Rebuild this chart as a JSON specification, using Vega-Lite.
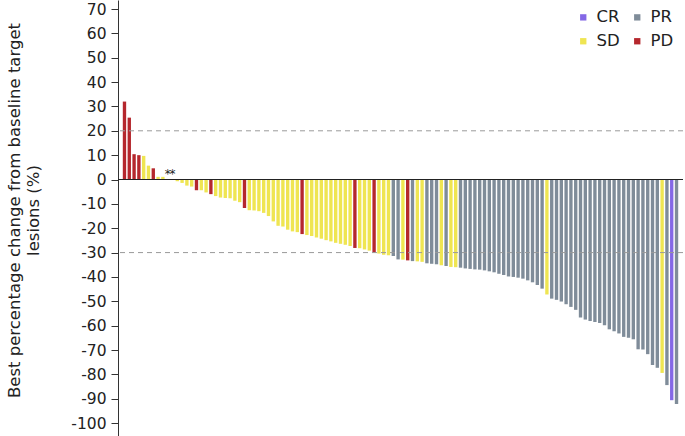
{
  "$schema": "https://vega.github.io/schema/vega-lite/v6.json",
  "width": 565,
  "height": 436,
  "autosize": {"type": "none"},
  "padding": {"left": 118, "top": 0, "right": 2, "bottom": 0},
  "config": {
    "view": {"stroke": null},
    "font": "DejaVu Sans"
  },
  "data": {
    "values": [
      {"id": 1, "value": 32, "resp": "PD"},
      {"id": 2, "value": 25.4, "resp": "PD"},
      {"id": 3, "value": 10.4, "resp": "PD"},
      {"id": 4, "value": 10, "resp": "PD"},
      {"id": 5, "value": 9.7, "resp": "SD"},
      {"id": 6, "value": 5.7, "resp": "SD"},
      {"id": 7, "value": 4.6, "resp": "PD"},
      {"id": 8, "value": 1.1, "resp": "SD"},
      {"id": 9, "value": 1.1, "resp": "SD"},
      {"id": 10, "value": 0, "resp": "SD", "note": "*"},
      {"id": 11, "value": 0, "resp": "SD", "note": "*"},
      {"id": 12, "value": -0.7, "resp": "SD"},
      {"id": 13, "value": -1.4, "resp": "SD"},
      {"id": 14, "value": -2.5, "resp": "SD"},
      {"id": 15, "value": -2.9, "resp": "SD"},
      {"id": 16, "value": -4.4, "resp": "PD"},
      {"id": 17, "value": -4.4, "resp": "SD"},
      {"id": 18, "value": -5.3, "resp": "SD"},
      {"id": 19, "value": -6, "resp": "PD"},
      {"id": 20, "value": -6.8, "resp": "SD"},
      {"id": 21, "value": -7.4, "resp": "SD"},
      {"id": 22, "value": -7.6, "resp": "SD"},
      {"id": 23, "value": -7.7, "resp": "SD"},
      {"id": 24, "value": -8.7, "resp": "SD"},
      {"id": 25, "value": -9.3, "resp": "SD"},
      {"id": 26, "value": -11.7, "resp": "PD"},
      {"id": 27, "value": -12.6, "resp": "SD"},
      {"id": 28, "value": -12.7, "resp": "SD"},
      {"id": 29, "value": -13, "resp": "SD"},
      {"id": 30, "value": -13.7, "resp": "SD"},
      {"id": 31, "value": -15, "resp": "SD"},
      {"id": 32, "value": -17.2, "resp": "SD"},
      {"id": 33, "value": -19, "resp": "SD"},
      {"id": 34, "value": -19.3, "resp": "SD"},
      {"id": 35, "value": -20.6, "resp": "SD"},
      {"id": 36, "value": -21.3, "resp": "SD"},
      {"id": 37, "value": -21.6, "resp": "SD"},
      {"id": 38, "value": -22.4, "resp": "PD"},
      {"id": 39, "value": -22.8, "resp": "SD"},
      {"id": 40, "value": -23.2, "resp": "SD"},
      {"id": 41, "value": -23.8, "resp": "SD"},
      {"id": 42, "value": -24.3, "resp": "SD"},
      {"id": 43, "value": -24.9, "resp": "SD"},
      {"id": 44, "value": -25.4, "resp": "SD"},
      {"id": 45, "value": -26, "resp": "SD"},
      {"id": 46, "value": -26.4, "resp": "SD"},
      {"id": 47, "value": -26.8, "resp": "SD"},
      {"id": 48, "value": -27.3, "resp": "SD"},
      {"id": 49, "value": -28.1, "resp": "PD"},
      {"id": 50, "value": -28.2, "resp": "SD"},
      {"id": 51, "value": -28.7, "resp": "SD"},
      {"id": 52, "value": -29.2, "resp": "SD"},
      {"id": 53, "value": -30, "resp": "PD"},
      {"id": 54, "value": -30.4, "resp": "SD"},
      {"id": 55, "value": -30.9, "resp": "SD"},
      {"id": 56, "value": -31.1, "resp": "SD"},
      {"id": 57, "value": -31.4, "resp": "PR"},
      {"id": 58, "value": -32.8, "resp": "PR"},
      {"id": 59, "value": -32.9, "resp": "SD"},
      {"id": 60, "value": -33.2, "resp": "PD"},
      {"id": 61, "value": -33.5, "resp": "PR"},
      {"id": 62, "value": -33.6, "resp": "SD"},
      {"id": 63, "value": -33.8, "resp": "SD"},
      {"id": 64, "value": -34.4, "resp": "PR"},
      {"id": 65, "value": -34.6, "resp": "PR"},
      {"id": 66, "value": -34.8, "resp": "PR"},
      {"id": 67, "value": -35.2, "resp": "SD"},
      {"id": 68, "value": -35.5, "resp": "PR"},
      {"id": 69, "value": -35.9, "resp": "SD"},
      {"id": 70, "value": -36, "resp": "SD"},
      {"id": 71, "value": -36.2, "resp": "PR"},
      {"id": 72, "value": -36.5, "resp": "PR"},
      {"id": 73, "value": -36.7, "resp": "PR"},
      {"id": 74, "value": -36.9, "resp": "PR"},
      {"id": 75, "value": -37, "resp": "PR"},
      {"id": 76, "value": -37.3, "resp": "PR"},
      {"id": 77, "value": -37.7, "resp": "PR"},
      {"id": 78, "value": -38.1, "resp": "PR"},
      {"id": 79, "value": -38.7, "resp": "PR"},
      {"id": 80, "value": -39.2, "resp": "PR"},
      {"id": 81, "value": -39.8, "resp": "PR"},
      {"id": 82, "value": -40, "resp": "PR"},
      {"id": 83, "value": -40.3, "resp": "PR"},
      {"id": 84, "value": -40.7, "resp": "PR"},
      {"id": 85, "value": -41.4, "resp": "PR"},
      {"id": 86, "value": -42.2, "resp": "PR"},
      {"id": 87, "value": -43.3, "resp": "PR"},
      {"id": 88, "value": -44.8, "resp": "PR"},
      {"id": 89, "value": -47.2, "resp": "SD"},
      {"id": 90, "value": -48.9, "resp": "PR"},
      {"id": 91, "value": -49.4, "resp": "PR"},
      {"id": 92, "value": -50.1, "resp": "PR"},
      {"id": 93, "value": -51.2, "resp": "PR"},
      {"id": 94, "value": -52.3, "resp": "PR"},
      {"id": 95, "value": -53.5, "resp": "PR"},
      {"id": 96, "value": -56.7, "resp": "PR"},
      {"id": 97, "value": -57.5, "resp": "PR"},
      {"id": 98, "value": -58.1, "resp": "PR"},
      {"id": 99, "value": -58.5, "resp": "PR"},
      {"id": 100, "value": -58.9, "resp": "PR"},
      {"id": 101, "value": -59.8, "resp": "PR"},
      {"id": 102, "value": -61.5, "resp": "PR"},
      {"id": 103, "value": -62.3, "resp": "PR"},
      {"id": 104, "value": -63.2, "resp": "PR"},
      {"id": 105, "value": -64.6, "resp": "PR"},
      {"id": 106, "value": -65, "resp": "PR"},
      {"id": 107, "value": -65.6, "resp": "PR"},
      {"id": 108, "value": -69.7, "resp": "PR"},
      {"id": 109, "value": -69.8, "resp": "PR"},
      {"id": 110, "value": -71.7, "resp": "PR"},
      {"id": 111, "value": -76.2, "resp": "PR"},
      {"id": 112, "value": -77.3, "resp": "PR"},
      {"id": 113, "value": -79.4, "resp": "SD"},
      {"id": 114, "value": -84.4, "resp": "PR"},
      {"id": 115, "value": -90.6, "resp": "CR"},
      {"id": 116, "value": -92.2, "resp": "PR"}
    ]
  },
  "encoding": {
    "y": {
      "field": "value",
      "type": "quantitative",
      "scale": {"domain": [-105.3, 73.7], "nice": false},
      "axis": {
        "values": [-100, -90, -80, -70, -60, -50, -40, -30, -20, -10, 0, 10, 20, 30, 40, 50, 60, 70],
        "labelExpr": "'' + datum.value",
        "labelOverlap": false,
        "labelBound": false,
        "grid": false,
        "domainColor": "#333333",
        "tickColor": "#333333",
        "tickSize": 7,
        "labelFontSize": 15.5,
        "labelColor": "#222222",
        "labelPadding": 5,
        "title": ["Best percentage change from baseline target", "lesions (%)"],
        "titleFontSize": 16.5,
        "titleFontWeight": "normal",
        "titleColor": "#222222",
        "titleLineHeight": 19,
        "titleX": -112,
        "titleY": 210,
        "titleBaseline": "top",
        "titleAlign": "center"
      }
    }
  },
  "layer": [
    {
      "mark": {"type": "bar"},
      "encoding": {
        "x": {
          "field": "id",
          "type": "ordinal",
          "axis": null,
          "scale": {"paddingInner": 0.3, "paddingOuter": 1.6}
        },
        "color": {
          "field": "resp",
          "type": "nominal",
          "scale": {
            "domain": ["CR", "PR", "SD", "PD"],
            "range": ["#8468e6", "#7f8c99", "#efe552", "#b5272d"]
          },
          "legend": {
            "title": null,
            "orient": "none",
            "legendX": 457,
            "legendY": 9,
            "columns": 2,
            "direction": "horizontal",
            "symbolType": "square",
            "symbolSize": 40,
            "symbolStrokeWidth": 0,
            "labelFontSize": 16.5,
            "labelColor": "#222222",
            "labelOffset": 5,
            "columnPadding": 9,
            "rowPadding": 7,
            "padding": 0
          }
        }
      }
    },
    {
      "data": {"values": [{"value": 20}, {"value": -30}]},
      "mark": {"type": "rule", "color": "#9a9a9a", "strokeDash": [5, 4], "strokeWidth": 1},
      "encoding": {}
    },
    {
      "data": {"values": [{"value": 0}]},
      "mark": {"type": "rule", "color": "#222222", "strokeWidth": 1.2},
      "encoding": {}
    },
    {
      "transform": [{"filter": "datum.note == '*'"}],
      "mark": {"type": "text", "fontSize": 12, "baseline": "alphabetic", "color": "#222222", "dy": -2},
      "encoding": {
        "x": {"field": "id", "type": "ordinal"},
        "text": {"field": "note"}
      }
    }
  ]
}
